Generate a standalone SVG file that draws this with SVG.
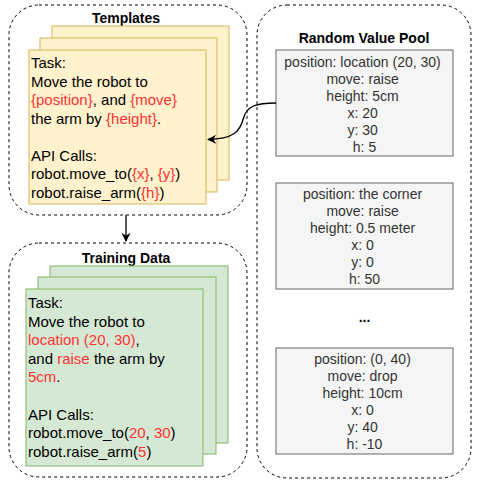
<svg xmlns="http://www.w3.org/2000/svg" width="492" height="490" viewBox="0 0 492 490">
<defs>
<style>
.cont{fill:#ffffff;stroke:#000000;stroke-width:1;stroke-dasharray:3 3}
.ttl{font-family:"Liberation Sans",Arial,sans-serif;font-weight:bold;font-size:14px;fill:#000000;text-anchor:middle}
.tpl{fill:#fff2cc;stroke:#d6b656;stroke-width:1}
.trn{fill:#d5e8d4;stroke:#82b366;stroke-width:1}
.body{font-family:"Liberation Sans",Arial,sans-serif;font-size:15px;fill:#000000}
.r{fill:#ff3333}
.val{fill:#f5f5f5;stroke:#666666;stroke-width:1}
.vt{font-family:"Liberation Sans",Arial,sans-serif;font-size:14px;fill:#333333;text-anchor:middle}
.edge{fill:none;stroke:#000000;stroke-width:1.3}
</style>
<marker id="ah" viewBox="0 0 10 10" refX="9" refY="5" markerWidth="9" markerHeight="9" orient="auto" markerUnits="userSpaceOnUse">
<path d="M0,0 L10,5 L0,10 L3,5 Z" fill="#000000"/>
</marker>
</defs>
<rect width="492" height="490" fill="#ffffff"/>

<g id="templates">
<rect class="cont" x="9" y="5" width="238" height="210" rx="30" ry="30"/>
<text class="ttl" x="126" y="23">Templates</text>
<rect class="tpl" x="52" y="26" width="177" height="154"/>
<rect class="tpl" x="40" y="38" width="177" height="154"/>
<rect class="tpl" x="29" y="50" width="177" height="154"/>
<text class="body" x="31" y="68">
<tspan x="31" y="68">Task:</tspan>
<tspan x="31" y="86.5">Move the robot to</tspan>
<tspan x="31" y="105"><tspan class="r">{position}</tspan>, and <tspan class="r">{move}</tspan></tspan>
<tspan x="31" y="123.5">the arm by <tspan class="r">{height}</tspan>.</tspan>
<tspan x="31" y="160.5">API Calls:</tspan>
<tspan x="31" y="179">robot.move_to(<tspan class="r">{x}</tspan>, <tspan class="r">{y}</tspan>)</tspan>
<tspan x="31" y="197.5">robot.raise_arm(<tspan class="r">{h}</tspan>)</tspan>
</text>
</g>

<g id="training-data">
<rect class="cont" x="9" y="243" width="238" height="234" rx="30" ry="30"/>
<text class="ttl" x="126" y="263">Training Data</text>
<rect class="trn" x="50" y="266" width="178" height="177"/>
<rect class="trn" x="38" y="277" width="178" height="177"/>
<rect class="trn" x="26" y="289" width="177" height="177"/>
<text class="body" x="28" y="308">
<tspan x="28" y="308">Task:</tspan>
<tspan x="28" y="326.6">Move the robot to</tspan>
<tspan x="28" y="345.2"><tspan class="r">location (20, 30)</tspan>,</tspan>
<tspan x="28" y="363.8">and <tspan class="r">raise</tspan> the arm by</tspan>
<tspan x="28" y="382.4"><tspan class="r">5cm</tspan>.</tspan>
<tspan x="28" y="419.6">API Calls:</tspan>
<tspan x="28" y="438.2">robot.move_to(<tspan class="r">20</tspan>, <tspan class="r">30</tspan>)</tspan>
<tspan x="28" y="456.8">robot.raise_arm(<tspan class="r">5</tspan>)</tspan>
</text>
</g>

<g id="random-value-pool">
<rect class="cont" x="257" y="5" width="214" height="473" rx="30" ry="30"/>
<text class="ttl" x="364" y="43">Random Value Pool</text>
</g>

<g id="value-set-1">
<rect class="val" x="276" y="50" width="177" height="106"/>
<text class="vt">
<tspan x="364.5" y="67">position: location (20, 30)</tspan>
<tspan x="364.5" y="84">move: raise</tspan>
<tspan x="364.5" y="101">height: 5cm</tspan>
<tspan x="364.5" y="118">x: 20</tspan>
<tspan x="364.5" y="135">y: 30</tspan>
<tspan x="364.5" y="151.5">h: 5</tspan>
</text>
</g>

<g id="value-set-2">
<rect class="val" x="276" y="183" width="177" height="106"/>
<text class="vt">
<tspan x="364.5" y="199">position: the corner</tspan>
<tspan x="364.5" y="216">move: raise</tspan>
<tspan x="364.5" y="233">height: 0.5 meter</tspan>
<tspan x="364.5" y="250">x: 0</tspan>
<tspan x="364.5" y="267">y: 0</tspan>
<tspan x="364.5" y="283.5">h: 50</tspan>
</text>
</g>

<g id="ellipsis">
<text class="ttl" x="364.5" y="322">...</text>
</g>

<g id="value-set-3">
<rect class="val" x="276" y="348" width="177" height="106"/>
<text class="vt">
<tspan x="364.5" y="364">position: (0, 40)</tspan>
<tspan x="364.5" y="381">move: drop</tspan>
<tspan x="364.5" y="398">height: 10cm</tspan>
<tspan x="364.5" y="415">x: 0</tspan>
<tspan x="364.5" y="432">y: 40</tspan>
<tspan x="364.5" y="448.5">h: -10</tspan>
</text>
</g>

<g id="connectors">
<path class="edge" d="M126,215 L126,241" marker-end="url(#ah)"/>
<path class="edge" d="M276,103 C256,103 247,106 243.5,118 C240,132 233,139 208,139.5" marker-end="url(#ah)"/>
</g>
</svg>
